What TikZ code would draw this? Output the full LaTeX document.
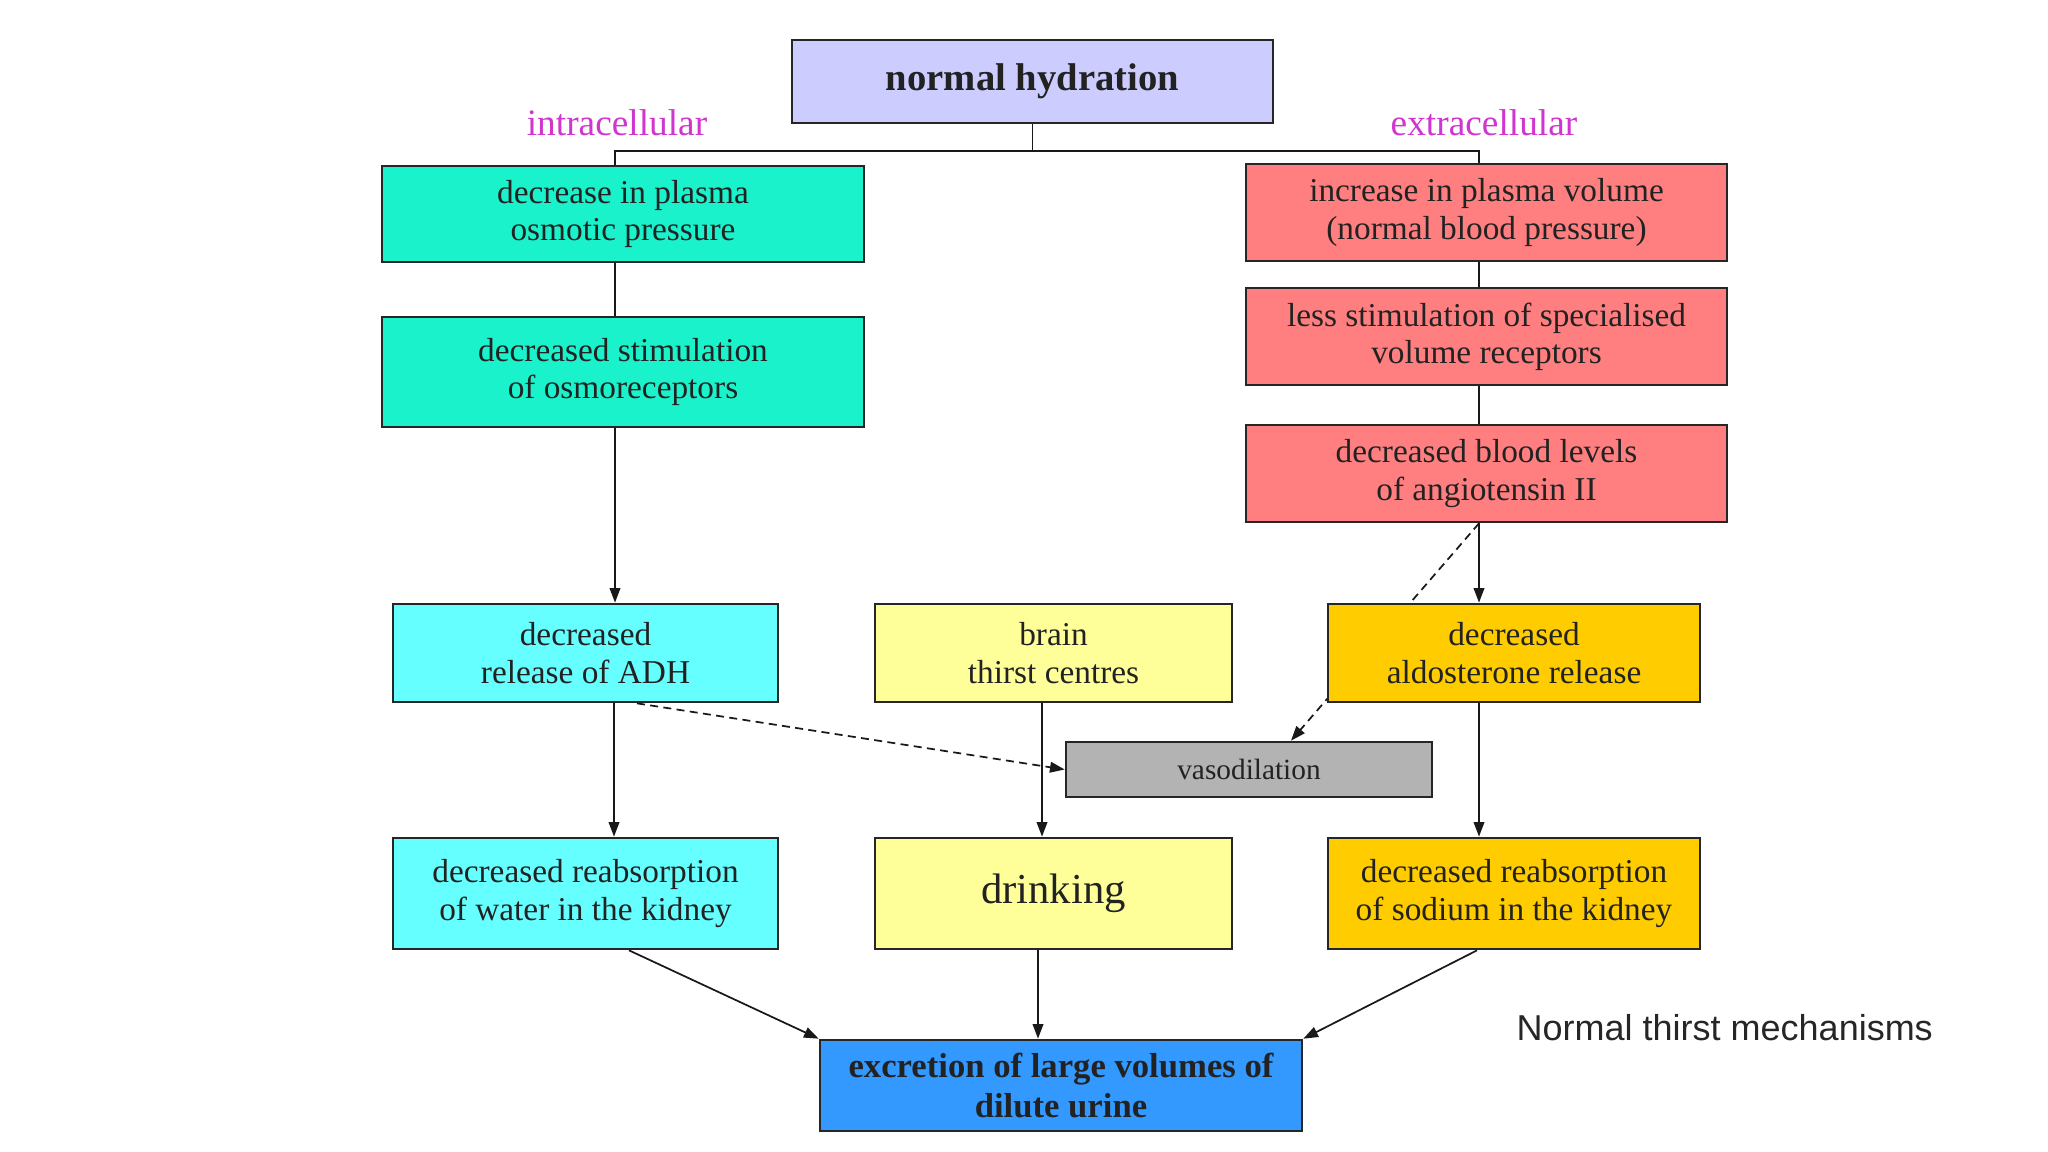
\documentclass[tikz,border=0pt]{standalone}
\usepackage{fontspec}
\setmainfont{Liberation Serif}
\newfontfamily\capfont{Liberation Sans}
\usetikzlibrary{arrows.meta}
\definecolor{cgreen}{HTML}{1AF2CC}
\definecolor{ccyan}{HTML}{66FFFF}
\definecolor{cyel}{HTML}{FFFF99}
\definecolor{corange}{HTML}{FFCC00}
\definecolor{cred}{HTML}{FF7F80}
\definecolor{cblue}{HTML}{3399FF}
\definecolor{clav}{HTML}{CCCCFF}
\definecolor{cgray}{HTML}{B3B3B3}
\definecolor{cmag}{HTML}{D035D0}
\definecolor{ctext}{HTML}{222222}
\begin{document}
\begin{tikzpicture}[x=0.75pt,y=-0.75pt,
  box/.style={draw=black!85,line width=2pt,inner sep=0pt,align=center,text=ctext,
    font=\fontsize{25}{28}\selectfont},
  wh/.style 2 args={minimum width=#1*0.75pt,minimum height=#2*0.75pt},
  line/.style={line width=1.3pt,black!90},
  arr/.style={line,-{Triangle[length=11pt,width=8pt]}},
  dsh/.style={arr,dash pattern=on 6pt off 4pt},
  lab/.style={text=cmag,font=\fontsize{28}{30}\selectfont}]
\useasboundingbox (0,0) rectangle (2048,1152);
\coordinate (L) at (615,0);
\coordinate (R) at (1479,0);
\node[box,fill=cred,wh={481}{97}] (r3) at (1486.5,473.5) {decreased blood levels\\of angiotensin II};
\node[box,fill=cgray,wh={366}{55},font=\fontsize{22}{24}\selectfont] (vaso) at (1249,769.5) {vasodilation};
\draw[dsh] (r3.south -| R) -- (vaso.north -| 1291,0);
\node[box,fill=clav,wh={481}{83},font=\bfseries\fontsize{29}{32}\selectfont] (nh) at (1032.5,81.5) {normal hydration};
\node[box,fill=cgreen,wh={482}{96}] (g1) at (623,214) {decrease in plasma\\osmotic pressure};
\node[box,fill=cgreen,wh={482}{110}] (g2) at (623,372) {decreased stimulation\\of osmoreceptors};
\node[box,fill=cred,wh={481}{97}] (r1) at (1486.5,212.5) {increase in plasma volume\\(normal blood pressure)};
\node[box,fill=cred,wh={481}{97}] (r2) at (1486.5,336.5) {less stimulation of specialised\\volume receptors};
\node[box,fill=ccyan,wh={385}{98}] (adh) at (585.5,653) {decreased\\release of ADH};
\node[box,fill=ccyan,wh={385}{111}] (water) at (585.5,893.5) {decreased reabsorption\\of water in the kidney};
\node[box,fill=cyel,wh={357}{98}] (brain) at (1053.5,653) {brain\\thirst centres};
\node[box,fill=cyel,wh={357}{111},font=\fontsize{32}{34}\selectfont] (drink) at (1053.5,893.5) {drinking};
\node[box,fill=corange,wh={372}{98}] (ald) at (1514,653) {decreased\\aldosterone release};
\node[box,fill=corange,wh={372}{111}] (sod) at (1514,893.5) {decreased reabsorption\\of sodium in the kidney};
\node[box,fill=cblue,wh={482}{91},font=\bfseries\fontsize{26}{30}\selectfont] (urine) at (1061,1085.5) {excretion of large volumes of\\dilute urine};
\node[lab] (intra) at (617,123) {intracellular};
\node[lab] (extra) at (1484,123) {extracellular};
\node[font=\capfont\fontsize{27}{30}\selectfont,text=black!85,anchor=west] (title) at (1512,1028) {Normal thirst mechanisms};
\coordinate (bus) at (1032.5,151);
\draw[line] (nh.south) -- (bus);
\draw[line] (g1.north -| L) |- (bus) -| (r1.north -| R);
\draw[line] (g1.south -| L) -- (g2.north -| L);
\draw[line] (r1.south -| R) -- (r2.north -| R);
\draw[line] (r2.south -| R) -- (r3.north -| R);
\draw[arr] (g2.south -| L) -- (adh.north -| L);
\draw[arr] (r3.south -| R) -- (ald.north -| R);
\draw[arr] (adh.south -| 614,0) -- (water.north -| 614,0);
\draw[arr] (brain.south -| 1042,0) -- (drink.north -| 1042,0);
\draw[arr] (ald.south -| R) -- (sod.north -| R);
\draw[arr] (drink.south -| 1038,0) -- (urine.north -| 1038,0);
\draw[arr] (water.south -| 629,0) -- (urine.north west);
\draw[arr] (sod.south -| 1477,0) -- (urine.north east);
\draw[dsh] (adh.south -| 637,0) -- (vaso.west);
\end{tikzpicture}
\end{document}
